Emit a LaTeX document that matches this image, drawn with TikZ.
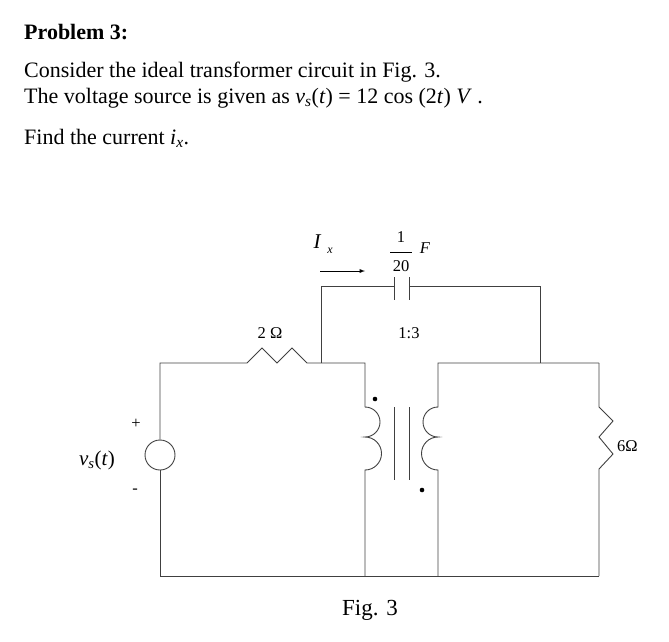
\documentclass[tikz,border=0pt]{standalone}
\usepackage{fontspec}
\setmainfont{Liberation Serif}
\newcommand{\vsub}[2]{\textit{#1}\textsubscript{\textit{#2}}}
\begin{document}
\begin{tikzpicture}[x=1pt,y=-1pt,
  wire/.style={draw=black!75,line width=0.9pt},
  txt/.style={font=\fontsize{22}{26}\selectfont,anchor=west,inner sep=0pt},
  lbl/.style={font=\fontsize{16.5}{18}\selectfont,inner sep=0pt}]
\useasboundingbox (0,0) rectangle (669,641);
\node[txt,font=\bfseries\fontsize{22}{26}\selectfont] (t0) at (24,32) {Problem 3:};
\node[txt] (t1) at (24,72) {Consider the ideal transformer circuit in Fig. 3.};
\node[txt] (t2) at (24,98) {The voltage source is given as \vsub{v}{s}(\textit{t}) = 12 cos (2\textit{t}) \textit{V} .};
\node[txt] (t3) at (24,138) {Find the current \vsub{i}{x}.};
% source
\node[circle,draw=black!75,line width=0.9pt,minimum size=30pt,inner sep=0pt] (src) at (160,455) {};
\coordinate (tl) at (160,363);
\coordinate (bl) at (160,576);
\draw[wire] (src.north) -- (tl) -- (247,363) -- (262,348) -- (277,363) -- (292,348) -- (307,363) -- (321,363) coordinate (n1) -- (365,363) -- (365,407) coordinate (p1);
\draw[wire] (src.south) -- (bl) -- (599,576) coordinate (br);
% primary coil
\draw[wire] (p1) arc[start angle=270,end angle=450,radius=15] arc[start angle=270,end angle=450,radius=16.5] -- (365,576);
% secondary
\coordinate (s1) at (438,407);
\draw[wire] (599,363) -- (438,363) -- (s1) arc[start angle=270,end angle=90,radius=15] arc[start angle=270,end angle=90,radius=16.5] -- (438,576);
% core
\draw[wire] (394,407) -- (394,480) (409,407) -- (409,480);
\fill (375,399) circle (2.3pt) (422,490) circle (2.3pt);
% capacitor loop
\draw[wire] (n1) -- (321,286) -- (394,286) (409,286) -- (540,286) -- (540,363);
\draw[wire] (394,277) -- (394,300) (409,277) -- (409,300);
% 6 ohm
\draw[wire] (599,363) -- (599,407) -- (613,421) -- (599,437) -- (613,454) -- (599,469) -- (br);
% labels
\draw[-latex,line width=0.9pt] (320,271) -- (365,271);
\node[lbl,font=\itshape\fontsize{21}{22}\selectfont] (ix) at (317,242) {I};
\node[lbl,font=\itshape\fontsize{12}{13}\selectfont] (ixs) at (330,251) {x};
\node[lbl] (one) at (401,237) {1};
\draw[line width=0.6pt] (390,252) -- (412,252);
\node[lbl] (twenty) at (401,266) {20};
\node[lbl,font=\itshape\fontsize{16.5}{18}\selectfont] (F) at (425,248) {F};
\node[lbl] (r2) at (270,333) {2 Ω};
\node[lbl] (ratio) at (409,333) {1:3};
\node[lbl,anchor=west] (r6) at (617,446) {6Ω};
\node[lbl] (plus) at (136,424) {+};
\node[lbl] (minus) at (135,491) {-};
\node[lbl,font=\fontsize{21}{22}\selectfont] (vs) at (97,460) {\vsub{v}{s}(\textit{t})};
\node[lbl,font=\fontsize{23}{26}\selectfont] (fig) at (370,610) {Fig. 3};
\end{tikzpicture}
\end{document}
